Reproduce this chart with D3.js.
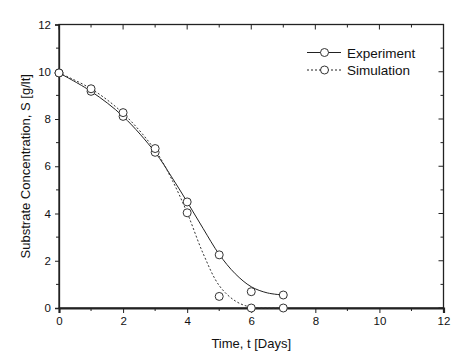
<!DOCTYPE html>
<html>
<head>
<meta charset="utf-8">
<script src="https://cdn.jsdelivr.net/npm/d3@7"></script>
<style>
  body { margin: 0; background: #fff; }
  text { font-family: "Liberation Sans", Arial, sans-serif; fill: #111; }
</style>
</head>
<body>
<script>
// measured points
var days = [0, 1, 2, 3, 4, 5, 6, 7];
var experiment = [9.95, 9.17, 8.11, 6.59, 4.49, 2.25, 0.69, 0.55];
var simulation = [9.95, 9.28, 8.27, 6.75, 4.03, 0.49, 0.0, 0.0];

// smooth curves
var curveT = [0, 1, 2, 3, 3.5, 4, 4.5, 5, 5.5, 6, 6.5, 7];
var experimentCurve = [9.95, 9.17, 8.11, 6.59, 5.58, 4.49, 3.36, 2.27, 1.45, 0.9, 0.64, 0.55];
var simulationCurve = [9.95, 9.28, 8.24, 6.68, 5.5, 4.03, 2.3, 0.95, 0.3, 0.03, 0.0, 0.0];

var xTicks = [0, 2, 4, 6, 8, 10, 12];
var yTicks = [0, 2, 4, 6, 8, 10, 12];
var minorTicks = [1, 3, 5, 7, 9, 11];

var width = 474;
var height = 363;
// plot box (note: "top" is a reserved window prop, don't use it)
var pLeft = 59, pRight = 443.5, pTop = 24.5, pBottom = 308;

var svg = d3.select('body')
            .append('svg')
            .attr('width', width)
            .attr('height', height);

var x = d3.scaleLinear().domain([0, 12]).range([pLeft, pRight]);
var y = d3.scaleLinear().domain([0, 12]).range([pBottom, pTop]);

// frame
svg.append('rect')
   .attr('x', pLeft).attr('y', pTop)
   .attr('width', pRight - pLeft).attr('height', pBottom - pTop)
   .attr('fill', 'none').attr('stroke', '#222').attr('stroke-width', 1.3);

// bottom axis
var xAxis = svg.append('g')
   .attr('transform', 'translate(0,' + pBottom + ')')
   .call(d3.axisBottom(x).tickValues(xTicks).tickSize(5).tickPadding(4));
xAxis.append('g').selectAll('line').data(minorTicks).enter().append('line')
   .attr('x1', function(d) { return x(d); }).attr('x2', function(d) { return x(d); })
   .attr('y1', 0).attr('y2', 3).attr('stroke', '#222');

// left axis
var yAxis = svg.append('g')
   .attr('transform', 'translate(' + pLeft + ',0)')
   .call(d3.axisLeft(y).tickValues(yTicks).tickSize(4).tickPadding(4));
yAxis.append('g').selectAll('line').data(minorTicks).enter().append('line')
   .attr('y1', function(d) { return y(d); }).attr('y2', function(d) { return y(d); })
   .attr('x1', 0).attr('x2', -3).attr('stroke', '#222');

[xAxis, yAxis].forEach(function(a) {
  a.select('.domain').attr('stroke', '#222').attr('stroke-width', 1.3);
  a.selectAll('.tick line').attr('stroke', '#222');
  a.selectAll('.tick text').attr('font-size', 11.5).attr('fill', '#111')
   .attr('font-family', '"Liberation Sans", Arial, sans-serif');
});
xAxis.select('.domain').attr('stroke-width', 2.2);

// top and right mirrored ticks (inward)
var mirror = svg.append('g');
xTicks.concat(minorTicks).forEach(function(d) {
  var len = xTicks.indexOf(d) >= 0 ? 5 : 3;
  mirror.append('line').attr('x1', x(d)).attr('x2', x(d))
      .attr('y1', pTop).attr('y2', pTop + len).attr('stroke', '#222');
  mirror.append('line').attr('y1', y(d)).attr('y2', y(d))
      .attr('x1', pRight).attr('x2', pRight - len).attr('stroke', '#222');
});

// curves
var line = d3.line()
  .x(function(d) { return x(d[0]); })
  .y(function(d) { return y(d[1]); })
  .curve(d3.curveCatmullRom.alpha(0.5));

svg.append('path')
   .datum(d3.zip(curveT, experimentCurve))
   .attr('d', line)
   .attr('fill', 'none').attr('stroke', '#222').attr('stroke-width', 1);

svg.append('path')
   .datum(d3.zip(curveT, simulationCurve))
   .attr('d', line)
   .attr('fill', 'none').attr('stroke', '#333').attr('stroke-width', 1)
   .attr('stroke-dasharray', '2,2');

// points
[experiment, simulation].forEach(function(series) {
  svg.append('g').selectAll('circle')
     .data(d3.zip(days, series))
     .enter()
     .append('circle')
     .attr('cx', function(d) { return x(d[0]); })
     .attr('cy', function(d) { return y(d[1]); })
     .attr('r', 4)
     .attr('fill', '#fff')
     .attr('stroke', '#333')
     .attr('stroke-width', 1);
});

// legend
var legend = [
  { name: 'Experiment', dash: null, ly: 52.5 },
  { name: 'Simulation', dash: '2,2', ly: 70 }
];
legend.forEach(function(l) {
  svg.append('line')
     .attr('x1', 307).attr('x2', 341).attr('y1', l.ly).attr('y2', l.ly)
     .attr('stroke', '#222').attr('stroke-dasharray', l.dash);
  svg.append('circle')
     .attr('cx', 324.5).attr('cy', l.ly).attr('r', 4)
     .attr('fill', '#fff').attr('stroke', '#333');
  svg.append('text')
     .attr('x', 347).attr('y', l.ly + 5)
     .attr('font-size', 13.5)
     .text(l.name);
});

// axis titles
svg.append('text')
   .attr('x', (pLeft + pRight) / 2).attr('y', 348)
   .attr('text-anchor', 'middle')
   .attr('font-size', 13)
   .text('Time, t [Days]');

svg.append('text')
   .attr('transform', 'translate(30,' + (pTop + pBottom) / 2 + ') rotate(-90)')
   .attr('text-anchor', 'middle')
   .attr('font-size', 13)
   .text('Substrate Concentration, S [g/lt]');
</script>
</body>
</html>
